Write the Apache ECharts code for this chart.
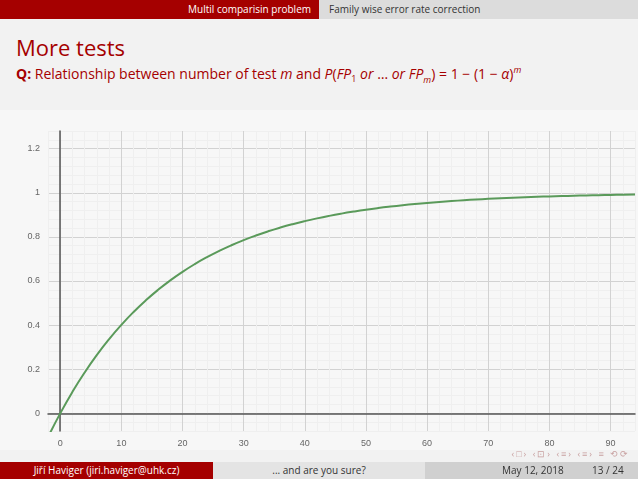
<!DOCTYPE html>
<html>
<head>
<meta charset="utf-8">
<script src="https://cdn.jsdelivr.net/npm/echarts@6/dist/echarts.min.js"></script>
<style>
body { margin:0; width:638px; height:479px; background:#f2f2f2; font-family:"Open Sans", sans-serif; overflow:hidden; position:relative; }
.hdr { position:absolute; top:0; left:0; width:638px; height:19px; font-size:10px; line-height:19px; }
.hl { position:absolute; left:0; width:319px; height:19px; background:#a50000; color:#fff; text-align:right; box-sizing:border-box; padding-right:8px; }
.hr { position:absolute; left:319px; width:319px; height:19px; background:#dcdcdc; color:#333; padding-left:10px; box-sizing:border-box; }
.title { position:absolute; left:16px; top:32px; font-size:22px; color:#a50000; }
.q { position:absolute; left:16px; top:63px; font-size:14px; color:#a50000; }
.ftr { position:absolute; top:462px; height:17px; font-size:10px; line-height:17px; }
#chart { position:absolute; left:0; top:110px; width:638px; height:340px; }
</style>
</head>
<body>
<div class="hdr"><div class="hl">Multil comparisin problem</div><div class="hr">Family wise error rate correction</div></div>
<div class="title">More tests</div>
<div class="q"><b>Q:</b> Relationship between number of test <i>m</i> and <i>P</i>(<i>FP</i><sub style="font-size:9px">1</sub> <i>or</i> &hellip; <i>or FP<sub style="font-size:9px">m</sub></i>) = 1 &minus; (1 &minus; <i>&alpha;</i>)<sup style="font-size:9px"><i>m</i></sup></div>
<div id="chart"></div>
<div style="position:absolute; right:8px; top:447px; font-size:9px; color:#c8a0a0; letter-spacing:2px">‹□› ‹⊡› ‹≡› ‹≡› ≡ ⟲⟳</div>
<div class="ftr" style="left:0; width:213px; background:#a50000; color:#fff; text-align:center">Jiří Haviger (jiri.haviger@uhk.cz)</div>
<div class="ftr" style="left:213px; width:212px; background:#e4e4e4; color:#333; text-align:center">... and are you sure?</div>
<div class="ftr" style="left:425px; width:213px; background:#d0d0d0; color:#333;"><span style="position:absolute; left:77px">May 12, 2018</span><span style="position:absolute; left:167px">13 / 24</span></div>
<script>
var tests = [-2, 0, 2, 4, 6, 8, 10, 12, 14, 16, 18, 20, 22, 24, 26, 28, 30, 32, 34, 36, 38, 40, 42, 44, 46, 48,
  50, 52, 54, 56, 58, 60, 62, 64, 66, 68, 70, 72, 74, 76, 78, 80, 82, 84, 86, 88, 90, 92, 94];
var fwer = [-0.108, 0, 0.0975, 0.1855, 0.2649, 0.3366, 0.4013, 0.4596, 0.5123, 0.5599, 0.6028, 0.6415, 0.6765,
  0.708, 0.7365, 0.7622, 0.7854, 0.8063, 0.8252, 0.8422, 0.8576, 0.8715, 0.884, 0.8953, 0.9055, 0.9147,
  0.9231, 0.9306, 0.9373, 0.9434, 0.949, 0.9539, 0.9584, 0.9625, 0.9661, 0.9694, 0.9724, 0.9751, 0.9775,
  0.9797, 0.9817, 0.9835, 0.9851, 0.9865, 0.9878, 0.989, 0.9901, 0.9911, 0.9919];

var chart = echarts.init(document.getElementById('chart'));
var pts = tests.map(function (m, i) { return [m, fwer[i]]; });
var minor = '#efefef', major = '#d2d2d2';
chart.setOption({
    animation: false,
    backgroundColor: '#f7f7f7',
    grid: { left: 48, right: 0, top: 21, bottom: 19 },
    xAxis: {
        type: 'value', min: -2, max: 94, interval: 2,
        axisLine: { onZero: true, lineStyle: { color: '#555', width: 1.5 } },
        axisTick: { show: false },
        axisLabel: { color: '#666', fontSize: 9, formatter: function (v) { return v % 10 === 0 ? v : ''; } },
        splitLine: { lineStyle: { color: [minor, major, minor, minor, minor] } }
    },
    yAxis: {
        type: 'value', min: -0.08, max: 1.28, interval: 0.04,
        axisLine: { show: true, onZero: true, lineStyle: { color: '#555', width: 1.5 } },
        axisTick: { show: false },
        axisLabel: { color: '#666', fontSize: 9, formatter: function (v) {
            var r = Math.round(v * 100);
            return (r >= 0 && r % 20 === 0) ? String(r / 100) : '';
        } },
        splitLine: { lineStyle: { color: [minor, minor, major, minor, minor] } }
    },
    series: [{
        type: 'line', data: pts, smooth: true, showSymbol: false,
        lineStyle: { color: '#5a9a5a', width: 2 }
    }]
});
</script>
</body>
</html>
